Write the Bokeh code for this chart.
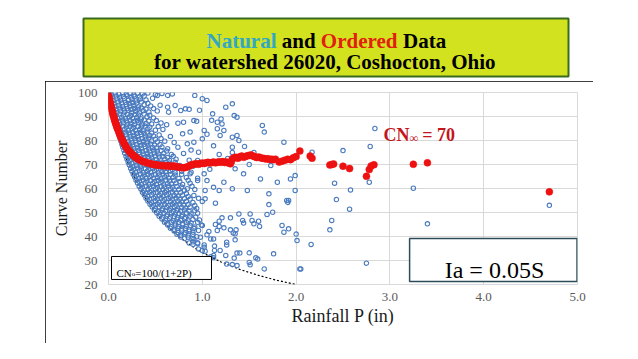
import math
from bokeh.plotting import figure
from bokeh.layouts import column
from bokeh.models import Range1d, FixedTicker, PrintfTickFormatter, Label, BoxAnnotation
from bokeh.embed import file_html
from bokeh.resources import INLINE

# ---------------- data ----------------
x_ticks = [0, 1, 2, 3, 4, 5]
y_ticks = [20, 30, 40, 50, 60, 70, 80, 90, 100]

# natural data (P, CN) - dense part, upper rows
natural_upper = [
    (0.005, 99.7), (0.03, 99.1), (0.07, 99.8), (0.11, 99.3), (0.15, 99.9), (0.19, 99.2), (0.23, 99.6), (0.27, 99.0), (0.31, 99.7), (0.36, 99.4), (0.42, 99.8), (0.50, 99.2), (0.57, 99.6),
    (0.012, 98.4), (0.04, 98.1), (0.08, 98.5), (0.12, 98.0), (0.16, 98.3), (0.20, 98.6), (0.24, 98.1), (0.28, 98.4), (0.33, 98.2), (0.38, 98.5),
    (0.018, 97.3), (0.05, 96.6), (0.09, 97.4), (0.13, 96.8), (0.17, 97.5), (0.21, 96.7), (0.25, 97.2), (0.29, 96.5), (0.34, 97.3), (0.40, 96.9), (0.47, 97.6),
    (0.026, 95.9), (0.06, 95.5), (0.10, 96.0), (0.14, 95.6), (0.18, 95.9), (0.22, 95.4), (0.26, 95.8), (0.30, 95.6), (0.35, 96.0), (0.42, 95.5),
    (0.032, 94.8), (0.07, 94.1), (0.11, 94.7), (0.15, 94.2), (0.19, 95.0), (0.23, 94.3), (0.27, 94.6), (0.32, 94.0), (0.38, 94.9), (0.45, 94.4), (0.55, 94.7),
    (0.04, 93.4), (0.08, 93.0), (0.12, 93.5), (0.16, 93.1), (0.20, 93.3), (0.24, 92.9), (0.28, 93.4), (0.31, 93.0), (0.35, 93.5), (0.40, 93.1), (0.48, 93.3),
    (0.046, 92.4), (0.09, 91.6), (0.13, 92.3), (0.17, 91.8), (0.21, 92.5), (0.25, 91.7), (0.29, 92.2), (0.33, 91.5), (0.37, 92.4), (0.43, 91.9), (0.52, 92.3), (0.64, 91.8),
    (0.054, 90.9), (0.08, 90.5), (0.12, 91.0), (0.16, 90.6), (0.20, 90.9), (0.24, 90.4), (0.28, 90.8), (0.32, 90.6), (0.38, 91.0), (0.44, 90.5),
    (0.062, 89.9), (0.10, 89.2), (0.14, 89.7), (0.18, 89.1), (0.22, 89.8), (0.26, 89.3), (0.30, 89.6), (0.35, 89.0), (0.41, 89.9), (0.48, 89.4),
    (0.07, 88.4), (0.11, 88.0), (0.15, 88.5), (0.19, 88.1), (0.23, 88.3), (0.27, 87.9), (0.31, 88.4), (0.34, 88.0), (0.38, 88.5), (0.43, 88.1), (0.51, 88.3),
    (0.078, 87.3), (0.12, 86.7), (0.16, 87.4), (0.20, 86.6), (0.24, 87.2), (0.28, 86.8), (0.32, 87.5), (0.36, 86.5), (0.40, 87.1), (0.46, 86.9), (0.56, 87.3), (0.62, 86.6),
    (0.087, 85.9), (0.11, 85.5), (0.15, 86.0), (0.19, 85.6), (0.23, 85.9), (0.27, 85.4), (0.31, 85.8), (0.35, 85.6), (0.39, 86.0), (0.44, 85.5), (0.53, 85.8),
    (0.095, 84.8), (0.13, 84.1), (0.17, 84.7), (0.21, 84.2), (0.25, 84.9), (0.29, 84.3), (0.33, 84.6), (0.37, 84.0), (0.42, 84.8), (0.50, 84.3), (0.58, 84.6),
    (0.104, 83.4), (0.14, 83.0), (0.18, 83.5), (0.22, 83.1), (0.26, 83.3), (0.30, 82.9), (0.34, 83.4), (0.38, 83.0), (0.41, 83.5), (0.46, 83.1),
    (0.113, 82.3), (0.15, 81.7), (0.19, 82.4), (0.23, 81.6), (0.27, 82.2), (0.31, 81.8), (0.35, 82.5), (0.39, 81.5), (0.44, 82.1), (0.48, 81.9), (0.54, 82.3), (0.66, 81.7),
    (0.123, 80.9), (0.16, 80.5), (0.20, 81.0), (0.24, 80.6), (0.28, 80.9), (0.32, 80.4), (0.36, 80.8), (0.40, 80.6), (0.43, 81.0), (0.50, 80.5), (0.56, 80.8),
    (0.132, 79.8), (0.17, 79.2), (0.21, 79.7), (0.25, 79.1), (0.29, 79.9), (0.33, 79.3), (0.37, 79.6), (0.41, 79.0), (0.46, 79.8), (0.52, 79.4), (0.60, 79.7), (0.70, 79.2),
    (0.143, 78.4), (0.18, 78.0), (0.22, 78.5), (0.26, 78.1), (0.30, 78.3), (0.34, 77.9), (0.38, 78.4), (0.42, 78.0), (0.45, 78.5), (0.49, 78.1), (0.55, 78.3),
    (0.152, 77.3), (0.19, 76.7), (0.23, 77.4), (0.27, 76.6), (0.31, 77.2), (0.35, 76.8), (0.39, 77.5), (0.43, 76.5), (0.47, 77.1), (0.51, 76.9), (0.57, 77.3), (0.63, 76.6), (0.74, 77.2),
    (0.164, 75.9), (0.20, 75.5), (0.24, 76.0), (0.28, 75.6), (0.32, 75.9), (0.36, 75.4), (0.40, 75.8), (0.44, 75.6), (0.48, 76.0), (0.52, 75.5), (0.56, 75.8), (0.62, 75.6),
]

# natural data - dense part, middle rows
natural_middle = [
    (0.173, 74.8), (0.21, 74.1), (0.25, 74.7), (0.29, 74.2), (0.33, 74.9), (0.37, 74.3), (0.41, 74.6), (0.45, 74.0), (0.49, 74.8), (0.53, 74.4), (0.59, 74.7), (0.67, 74.2), (0.80, 74.6),
    (0.186, 73.4), (0.22, 73.0), (0.26, 73.5), (0.30, 73.1), (0.34, 73.3), (0.38, 72.9), (0.42, 73.4), (0.46, 73.0), (0.50, 73.5), (0.54, 73.1), (0.58, 73.3), (0.63, 72.9), (0.69, 73.4),
    (0.197, 72.3), (0.23, 71.7), (0.27, 72.4), (0.31, 71.6), (0.35, 72.2), (0.39, 71.8), (0.43, 72.5), (0.47, 71.5), (0.51, 72.1), (0.55, 71.9), (0.60, 72.3), (0.65, 71.7), (0.72, 72.2), (0.86, 71.8),
    (0.21, 70.9), (0.25, 70.5), (0.29, 71.0), (0.33, 70.6), (0.37, 70.9), (0.41, 70.4), (0.45, 70.8), (0.49, 70.6), (0.53, 71.0), (0.57, 70.5), (0.61, 70.8), (0.65, 70.6), (0.71, 70.9),
    (0.222, 69.8), (0.26, 69.2), (0.30, 69.7), (0.34, 69.1), (0.38, 69.9), (0.42, 69.3), (0.46, 69.6), (0.50, 69.0), (0.54, 69.8), (0.58, 69.4), (0.62, 69.7), (0.68, 69.2), (0.76, 69.6), (0.90, 69.3),
    (0.236, 68.4), (0.27, 68.0), (0.31, 68.5), (0.35, 68.1), (0.39, 68.3), (0.43, 67.9), (0.47, 68.4), (0.51, 68.0), (0.55, 68.5), (0.59, 68.1), (0.63, 68.3), (0.68, 67.9), (0.74, 68.4),
    (0.249, 67.3), (0.29, 66.7), (0.33, 67.4), (0.37, 66.6), (0.41, 67.2), (0.45, 66.8), (0.49, 67.5), (0.53, 66.5), (0.57, 67.1), (0.61, 66.9), (0.66, 67.3), (0.71, 66.6), (0.78, 67.2), (0.88, 66.8),
    (0.264, 65.9), (0.30, 65.5), (0.34, 66.0), (0.38, 65.6), (0.42, 65.9), (0.46, 65.4), (0.50, 65.8), (0.54, 65.6), (0.58, 66.0), (0.62, 65.5), (0.66, 65.8), (0.71, 65.6), (0.78, 65.9),
    (0.279, 64.8), (0.32, 64.1), (0.36, 64.7), (0.40, 64.2), (0.44, 64.9), (0.48, 64.3), (0.52, 64.6), (0.56, 64.0), (0.60, 64.8), (0.64, 64.4), (0.69, 64.7), (0.75, 64.2), (0.83, 64.6), (0.95, 64.3),
    (0.294, 63.4), (0.33, 63.0), (0.37, 63.5), (0.41, 63.1), (0.45, 63.3), (0.49, 62.9), (0.53, 63.4), (0.57, 63.0), (0.61, 63.5), (0.65, 63.1), (0.70, 63.3), (0.76, 62.9), (0.85, 63.4),
    (0.31, 62.3), (0.35, 61.7), (0.39, 62.4), (0.43, 61.6), (0.47, 62.2), (0.51, 61.8), (0.55, 62.5), (0.59, 61.5), (0.63, 62.1), (0.67, 61.9), (0.72, 62.3), (0.79, 61.7), (0.87, 62.2),
    (0.327, 60.9), (0.36, 60.5), (0.40, 61.0), (0.44, 60.6), (0.48, 60.9), (0.52, 60.4), (0.56, 60.8), (0.60, 60.6), (0.64, 61.0), (0.68, 60.5), (0.73, 60.8), (0.78, 60.6), (0.89, 60.9),
    (0.345, 59.8), (0.38, 59.2), (0.42, 59.7), (0.46, 59.1), (0.50, 59.9), (0.54, 59.3), (0.58, 59.6), (0.62, 59.0), (0.66, 59.8), (0.70, 59.4), (0.75, 59.7), (0.81, 59.2), (0.92, 59.6),
    (0.362, 58.4), (0.40, 58.0), (0.44, 58.5), (0.48, 58.1), (0.52, 58.3), (0.56, 57.9), (0.60, 58.4), (0.64, 58.0), (0.68, 58.5), (0.72, 58.1), (0.77, 58.3), (0.83, 57.9),
    (0.382, 57.3), (0.42, 56.7), (0.46, 57.4), (0.50, 56.6), (0.54, 57.2), (0.58, 56.8), (0.62, 57.5), (0.66, 56.5), (0.70, 57.1), (0.74, 56.9), (0.79, 57.3), (0.85, 56.7),
    (0.40, 55.9), (0.44, 55.5), (0.48, 56.0), (0.52, 55.6), (0.56, 55.9), (0.60, 55.4), (0.64, 55.8), (0.68, 55.6), (0.72, 56.0), (0.76, 55.5), (0.81, 55.8), (0.87, 55.6), (0.96, 55.9),
    (0.42, 54.8), (0.46, 54.1), (0.50, 54.7), (0.54, 54.2), (0.58, 54.9), (0.62, 54.3), (0.66, 54.6), (0.70, 54.0), (0.74, 54.8), (0.78, 54.4), (0.83, 54.7), (0.90, 54.2), (1.00, 54.6),
    (0.443, 53.4), (0.48, 53.0), (0.52, 53.5), (0.56, 53.1), (0.60, 53.3), (0.64, 52.9), (0.68, 53.4), (0.72, 53.0), (0.76, 53.5), (0.80, 53.1), (0.85, 53.3), (0.92, 52.9),
    (0.466, 52.3), (0.50, 51.7), (0.54, 52.4), (0.58, 51.6), (0.62, 52.2), (0.66, 51.8), (0.70, 52.5), (0.74, 51.5), (0.78, 52.1), (0.82, 51.9), (0.87, 52.3), (0.94, 51.7),
]

# natural data - dense part, lower rows
natural_lower = [
    (0.49, 50.9), (0.53, 50.5), (0.57, 51.0), (0.61, 50.6), (0.65, 50.9), (0.69, 50.4), (0.73, 50.8), (0.77, 50.6), (0.81, 51.0), (0.86, 50.5), (0.92, 50.8),
    (0.515, 49.8), (0.55, 49.2), (0.59, 49.7), (0.63, 49.1), (0.67, 49.9), (0.71, 49.3), (0.75, 49.6), (0.79, 49.0), (0.83, 49.8), (0.88, 49.4), (0.95, 49.7),
    (0.54, 48.4), (0.58, 48.0), (0.62, 48.5), (0.66, 48.1), (0.70, 48.3), (0.74, 47.9), (0.78, 48.4), (0.82, 48.0), (0.87, 48.5), (0.93, 48.1),
    (0.57, 47.3), (0.61, 46.7), (0.65, 47.4), (0.69, 46.6), (0.73, 47.2), (0.77, 46.8), (0.81, 47.5), (0.85, 46.5), (0.90, 47.1), (0.97, 46.9),
    (0.597, 45.9), (0.63, 45.5), (0.67, 46.0), (0.71, 45.6), (0.75, 45.9), (0.79, 45.4), (0.83, 45.8), (0.88, 45.6), (0.95, 45.9),
    (0.63, 44.8), (0.67, 44.1), (0.71, 44.7), (0.75, 44.2), (0.79, 44.9), (0.83, 44.3), (0.87, 44.6), (0.92, 44.0), (0.99, 44.8),
    (0.66, 43.4), (0.70, 43.0), (0.74, 43.5), (0.78, 43.1), (0.82, 43.3), (0.86, 42.9), (0.91, 43.4),
    (0.70, 42.3), (0.74, 41.7), (0.78, 42.4), (0.82, 41.6), (0.86, 42.2), (0.90, 41.8), (0.96, 42.5),
    (0.73, 40.9), (0.77, 40.5), (0.81, 41.0), (0.85, 40.6), (0.90, 40.9),
    (0.77, 39.8), (0.81, 39.2), (0.85, 39.7), (0.89, 39.1), (0.94, 39.9),
    (0.86, 37.3), (0.90, 36.7), (0.95, 37.4),
    (0.96, 34.8), (1.00, 34.2),
]

# natural data - scattered events
natural_sparse = [
    (0.52, 98.8), (0.63, 98.8), (0.68, 99.4), (0.71, 94.6), (0.63, 93.9), (0.77, 92.5), (0.82, 93.2), (0.86, 93.0), (0.91, 88.3), (0.94, 88.0),
    (0.80, 87.6), (0.74, 87.2), (0.79, 82.8), (0.87, 83.5), (0.91, 79.3), (0.96, 75.1), (0.84, 78.6), (1.02, 84.2), (1.05, 82.6), (1.00, 80.7),
    (0.88, 76.0), (0.95, 71.7), (0.87, 66.1), (0.95, 63.3), (0.84, 59.9), (0.91, 57.1), (1.02, 66.1), (1.03, 55.7), (1.14, 53.9), (1.08, 68.0),
    (0.92, 98.8), (1.00, 97.4), (1.05, 96.7), (1.25, 93.9), (1.32, 95.3), (1.11, 91.1), (1.20, 89.0), (1.34, 90.4), (1.37, 89.7), (1.64, 86.3),
    (1.66, 83.5), (1.87, 79.3), (1.10, 88.4), (1.16, 87.6), (1.21, 86.9), (1.16, 84.9), (1.23, 84.2), (1.19, 82.1), (1.32, 81.4), (1.37, 82.1),
    (1.32, 77.2), (1.32, 75.0), (1.39, 80.0), (1.18, 74.2), (1.35, 68.2), (1.44, 66.1), (1.48, 59.2), (1.32, 59.9), (1.23, 62.6), (1.18, 59.2),
    (1.12, 60.5), (1.05, 63.3), (1.03, 59.2), (1.50, 70.0), (1.62, 64.0), (1.73, 69.6), (1.71, 57.8), (1.80, 62.6), (1.94, 64.0), (1.99, 59.2),
    (1.99, 65.4), (1.92, 55.0), (1.55, 75.0), (0.97, 92.6), (1.45, 77.5), (1.27, 72.5), (1.12, 77.8),
    (2.01, 38.3), (2.04, 26.5), (1.76, 32.8), (1.66, 26.5), (1.51, 28.2), (1.50, 29.2), (1.37, 27.9), (1.32, 28.3), (1.57, 31.1), (1.59, 30.6),
    (1.37, 33.1), (1.40, 33.1), (1.50, 33.2), (1.25, 32.1), (1.12, 32.1), (1.13, 34.2), (1.13, 36.0), (1.19, 34.2), (1.35, 38.6), (1.35, 41.1),
    (1.36, 42.8), (1.30, 42.8), (1.26, 37.6), (1.26, 36.5), (1.33, 41.5), (1.16, 42.5), (1.12, 39.0), (1.07, 42.1), (1.05, 40.7), (1.09, 39.0),
    (1.18, 46.4), (1.18, 44.2), (1.23, 43.6), (1.14, 45.0), (1.21, 47.8), (1.30, 47.8), (1.43, 46.7), (1.44, 45.6), (1.53, 46.7), (1.55, 45.3),
    (1.60, 46.4), (1.61, 44.2), (1.51, 49.4), (1.39, 49.4), (1.71, 53.3), (1.69, 49.2), (1.75, 50.1), (1.85, 44.6), (1.87, 41.8), (1.92, 43.2),
    (1.90, 55.0), (1.91, 54.2), (1.00, 44.6), (0.98, 39.7), (1.02, 35.5), (1.02, 36.5), (1.03, 33.9), (0.91, 39.0), (0.95, 37.0), (0.90, 37.8),
    (1.09, 31.6), (1.12, 31.2), (1.26, 28.5), (1.34, 31.0),
    (2.84, 85.0), (2.17, 75.1), (2.50, 75.8), (2.79, 77.5), (2.41, 62.2), (2.58, 59.4), (2.43, 55.4), (2.57, 51.4), (2.78, 62.6), (3.25, 60.1),
    (4.70, 53.0), (2.38, 46.7), (2.36, 42.8), (3.40, 45.3), (2.16, 36.7), (2.75, 28.9), (2.05, 26.5), (2.00, 41.0),
]

# ordered data (P, CN)
ordered_points = [
    (0.000, 98.7), (0.005, 97.9), (0.010, 97.0), (0.015, 96.1), (0.020, 95.3), (0.025, 94.5), (0.030, 93.7), (0.035, 92.9), (0.040, 92.2), (0.045, 91.4),
    (0.050, 90.7), (0.055, 90.0), (0.060, 89.3), (0.065, 88.6), (0.070, 88.0), (0.075, 87.4), (0.080, 86.8), (0.085, 86.2), (0.090, 85.6), (0.095, 85.1),
    (0.100, 84.6), (0.11, 83.5), (0.12, 82.5), (0.13, 81.6), (0.14, 80.8), (0.15, 80.0), (0.16, 79.2), (0.17, 78.5), (0.18, 77.8), (0.19, 77.2),
    (0.20, 76.6), (0.21, 76.1), (0.22, 75.6), (0.23, 75.1), (0.24, 74.7), (0.25, 74.3), (0.26, 74.0), (0.27, 73.6), (0.28, 73.3), (0.29, 73.0),
    (0.30, 72.7), (0.32, 72.2), (0.34, 71.8), (0.36, 71.4), (0.38, 71.1), (0.40, 70.8), (0.42, 70.6), (0.44, 70.4), (0.46, 70.2), (0.48, 70.0),
    (0.50, 69.9), (0.52, 69.8), (0.54, 69.7), (0.56, 69.6), (0.58, 69.5), (0.60, 69.5), (0.62, 69.4), (0.64, 69.5), (0.66, 69.3), (0.68, 69.3),
    (0.70, 69.4), (0.72, 69.2), (0.74, 69.0), (0.76, 68.8), (0.78, 68.7), (0.80, 68.6), (0.82, 68.8), (0.84, 69.0), (0.86, 69.4), (0.88, 69.8),
    (0.90, 70.0), (0.92, 70.2), (0.94, 70.3), (0.96, 70.1), (0.98, 70.4), (1.00, 70.6), (1.02, 70.4), (1.04, 70.7), (1.06, 70.9), (1.08, 70.6),
    (1.10, 70.8), (1.12, 71.0), (1.14, 70.7), (1.16, 70.9), (1.18, 71.1), (1.20, 70.9), (1.22, 71.2), (1.24, 70.8), (1.26, 71.0), (1.28, 70.6),
    (1.30, 70.3), (1.31, 71.2), (1.32, 72.4), (1.34, 72.8), (1.36, 73.0), (1.38, 72.6), (1.40, 73.2), (1.42, 73.5), (1.44, 73.0), (1.46, 73.3),
    (1.48, 73.6), (1.50, 73.8), (1.52, 74.0), (1.54, 73.5), (1.56, 73.2), (1.58, 72.9), (1.60, 73.1), (1.62, 72.8), (1.64, 72.6), (1.66, 72.5),
    (1.68, 72.3), (1.70, 72.4), (1.72, 72.1), (1.74, 72.2), (1.76, 72.0), (1.78, 72.2), (1.82, 71.0), (1.85, 71.4), (1.88, 71.8), (1.91, 72.2),
    (1.94, 72.0), (1.97, 72.8), (2.00, 73.3), (2.04, 75.6), (2.15, 73.5), (2.17, 72.6), (2.36, 69.8), (2.38, 70.0), (2.40, 70.2), (2.50, 69.3),
    (2.57, 68.3), (2.75, 65.1), (2.78, 67.9), (2.80, 69.4), (2.83, 69.9), (3.25, 70.1), (3.40, 70.7), (4.70, 58.6),
]

# CNo = 100/(1+2P) curve
cn0_p = [0.0, 0.05, 0.1, 0.15, 0.2, 0.25, 0.3, 0.4, 0.5, 0.6, 0.7, 0.8, 0.9, 1.0, 1.2, 1.4, 1.6, 1.8, 2.0]
cn0_cn = [100, 90.9, 83.3, 76.9, 71.4, 66.7, 62.5, 55.6, 50.0, 45.5, 41.7, 38.5, 35.7, 33.3, 29.4, 26.3, 23.8, 21.7, 20.0]

natural = natural_upper + natural_middle + natural_lower + natural_sparse
nat_p = [a for a, b in natural]
nat_cn = [b for a, b in natural]
ord_p = [a for a, b in ordered_points]
ord_cn = [b for a, b in ordered_points]

SERIF = "Liberation Serif"


def add_label(fig, x, y, text, size, color="black", bold=False, align="left", angle=0.0):
    fig.add_layout(Label(x=x, y=y, text=text, text_font=SERIF, text_font_size=size,
                         text_color=color, text_font_style="bold" if bold else "normal",
                         text_align=align, text_baseline="alphabetic", angle=angle))


# ---------------- title strip (1 unit = 1 page pixel; borders match the chart below) ----------------
t = figure(width=630, height=81, x_range=Range1d(63, 614), y_range=Range1d(0, 81),
           output_backend="svg", toolbar_location=None, x_axis_type=None, y_axis_type=None,
           min_border_left=63, min_border_right=16, min_border_top=0, min_border_bottom=0)
t.outline_line_color = None
t.background_fill_color = "white"
t.border_fill_color = "white"
t.xgrid.visible = False
t.ygrid.visible = False
t.add_layout(BoxAnnotation(left=83, right=568, top=63, bottom=5,
                           fill_color="#d3e21f", fill_alpha=1, line_color="#3a6a1e",
                           line_alpha=1, line_width=2))
add_label(t, 206, 40.3, "Natural", "21px", "#31a8c4", True)
add_label(t, 281.25, 40.3, "and", "21px", "black", True)
add_label(t, 320.35, 40.3, "Ordered", "21px", "#e2200f", True)
add_label(t, 402.6, 40.3, "Data", "21px", "black", True)
add_label(t, 324.5, 19.3, "for watershed 26020, Coshocton, Ohio", "21px", "black", True, "center")

# ---------------- main chart ----------------
p = figure(width=548, height=262, x_range=Range1d(0, 5), y_range=Range1d(20, 100),
           output_backend="svg", toolbar_location=None,
           min_border_left=63, min_border_right=16, min_border_top=11, min_border_bottom=59)
p.margin = (0, 0, 0, 45)
p.styles = {"outline": "2px solid black", "outline-offset": "-2px"}
p.background_fill_color = "white"
p.border_fill_color = "white"
p.outline_line_color = "#d9d9d9"

p.xaxis.ticker = FixedTicker(ticks=x_ticks)
p.yaxis.ticker = FixedTicker(ticks=y_ticks)
p.xaxis.formatter = PrintfTickFormatter(format="%.1f")
p.grid.grid_line_color = "#d9d9d9"
p.grid.grid_line_width = 1
p.axis.axis_line_color = None
p.axis.major_tick_line_color = None
p.axis.minor_tick_line_color = None
p.axis.major_tick_out = 0
p.axis.major_tick_in = 0
p.axis.major_label_text_font = SERIF
p.axis.major_label_text_font_size = "13px"
p.axis.major_label_text_color = "#595959"
p.yaxis.major_label_standoff = 11
p.xaxis.major_label_standoff = 8
p.axis.axis_label_text_font = SERIF
p.axis.axis_label_text_font_style = "normal"
p.axis.axis_label_text_color = "#1a1a1a"
p.xaxis.axis_label = "Rainfall P (in)"
p.xaxis.axis_label_text_font_size = "18px"
p.xaxis.axis_label_standoff = 2
p.yaxis.axis_label = "Curve Number"
p.yaxis.axis_label_text_font_size = "16px"
p.yaxis.axis_label_standoff = 5

p.line(cn0_p, cn0_cn, line_color="black", line_width=1.2, line_dash="2 2")
p.scatter(nat_p, nat_cn, marker="circle", size=4.4, fill_color=None,
          line_color="#4a7bbf", line_width=1.1)
p.scatter(ord_p, ord_cn, marker="circle", size=7, fill_color="#ee1111",
          line_color="#ee1111", line_width=0.5)

# CN infinity label
add_label(p, 2.932, 82.5, "CN", "18px", "#c3151c", True)
add_label(p, 3.209, 81.0, "\u221e", "12px", "#c3151c", True)
add_label(p, 3.344, 82.5, "= 70", "18px", "#c3151c", True)

# Ia box
p.add_layout(BoxAnnotation(left=3.21, right=4.995, top=39.2, bottom=21.25,
                           fill_color="white", fill_alpha=1, line_color="#2d4b5a",
                           line_alpha=1, line_width=1.5))
add_label(p, 4.115, 26.25, "Ia = 0.05S", "24px", "black", False, "center")

# CNo box
p.add_layout(BoxAnnotation(left=0.032, right=1.098, top=31.67, bottom=22.1,
                           fill_color="white", fill_alpha=1, line_color="black",
                           line_alpha=1, line_width=1))
add_label(p, 0.0853, 25.0, "CN", "11px")
add_label(p, 0.248, 24.17, "o", "7px")
add_label(p, 0.2857, 25.0, "=100/(1+2P)", "11px")

layout = column(t, p)
open("out.html", "w").write(file_html(layout, INLINE))
